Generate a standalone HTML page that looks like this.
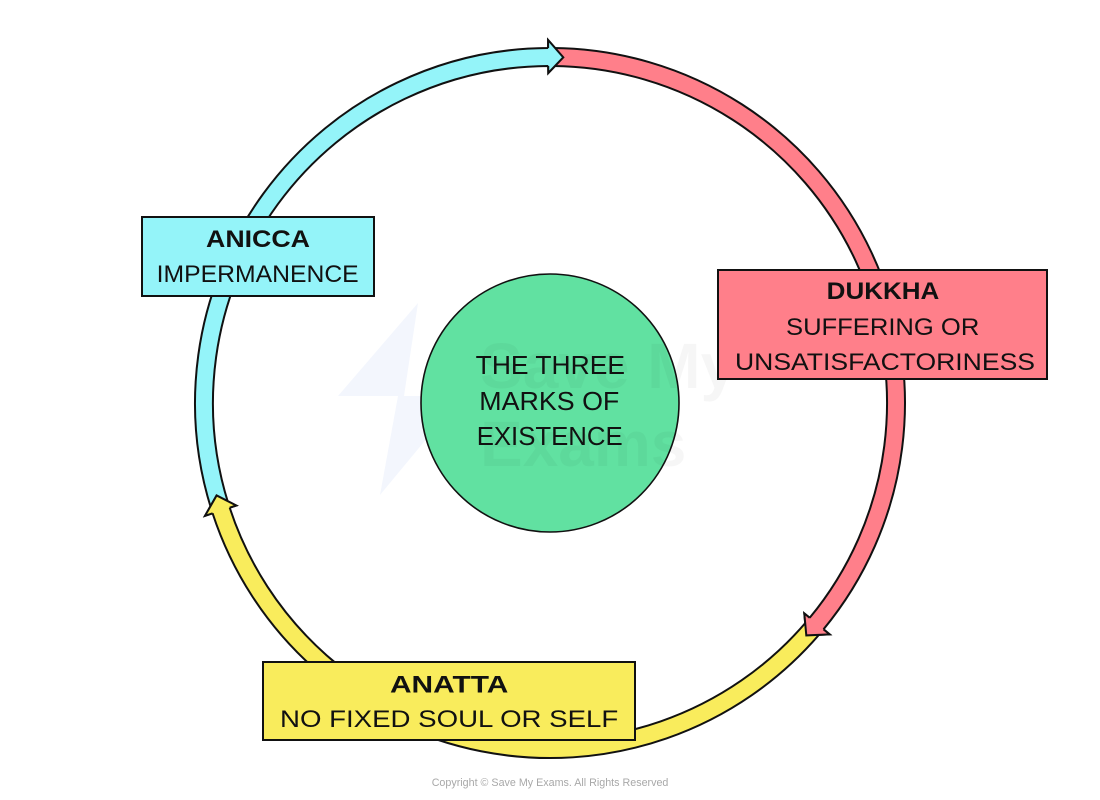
<!DOCTYPE html>
<html>
<head>
<meta charset="utf-8">
<style>
  html, body { margin: 0; padding: 0; background: #ffffff; }
  body { width: 1100px; height: 800px; overflow: hidden; }
  svg { display: block; }
  text { font-family: "Liberation Sans", "DejaVu Sans", sans-serif; fill: #111; }
</style>
</head>
<body>
<svg width="1100" height="800" viewBox="0 0 1100 800" xmlns="http://www.w3.org/2000/svg">
  <rect x="0" y="0" width="1100" height="800" fill="#ffffff"/>

  <!-- faint watermark bolt -->
  <polygon points="418,303 338,396 398,396 380,495 462,396 404,396" fill="#f3f6fd"/>

  <!-- Arrows (full shapes) -->
  <g stroke="#111" stroke-width="2" stroke-linejoin="miter" stroke-miterlimit="10">
    <path d="M 211.3 509.2 A 355 355 0 0 1 548.1 48.0 L 548.1 40.0 L 563.3 57.3 L 548.3 73.0 L 548.2 66.0 A 337 337 0 0 0 228.4 503.8 Z" fill="#94f4f9"/>
    <path d="M 553.1 48.0 A 355 355 0 0 1 823.5 629.3 L 829.7 634.4 L 806.3 635.4 L 804.3 613.4 L 809.7 617.8 A 337 337 0 0 0 552.9 66.0 Z" fill="#ff7f8a"/>
    <path d="M 820.0 633.6 A 355 355 0 0 1 212.6 513.3 L 205.0 515.8 L 216.6 495.5 L 236.3 505.5 L 229.7 507.7 A 337 337 0 0 0 806.3 621.9 Z" fill="#f9ec5c"/>
  </g>

  <!-- Arrow head overlays -->
  <polygon points="548.1,40 563.3,57.3 548.3,73" fill="#94f4f9"/>
  <polyline points="548.1,48 548.1,40 563.3,57.3 548.3,73 548.2,66" fill="none" stroke="#111" stroke-width="2" stroke-linejoin="miter"/>

  <polygon points="829.7,634.4 806.3,635.4 804.3,613.4" fill="#ff7f8a"/>
  <polyline points="823.5,629.3 829.7,634.4 806.3,635.4 804.3,613.4 809.7,617.8" fill="none" stroke="#111" stroke-width="2" stroke-linejoin="miter"/>

  <polygon points="205,515.8 216.6,495.5 236.3,505.5" fill="#f9ec5c"/>
  <polyline points="212.6,513.3 205,515.8 216.6,495.5 236.3,505.5 229.7,507.7" fill="none" stroke="#111" stroke-width="2" stroke-linejoin="miter"/>

  <!-- Center circle -->
  <circle cx="550" cy="403" r="129" fill="#61e1a1" stroke="#111" stroke-width="1.6"/>

  <!-- faint watermark text -->
  <text x="480" y="388" font-size="64" font-weight="bold" fill="#000" fill-opacity="0.035" style="fill:#000;fill-opacity:0.035">Save My</text>
  <text x="480" y="466" font-size="64" font-weight="bold" fill="#000" fill-opacity="0.035" style="fill:#000;fill-opacity:0.035">Exams</text>

  <text x="475.7" y="374" font-size="26" textLength="149.3" lengthAdjust="spacingAndGlyphs">THE THREE</text>
  <text x="479.3" y="410" font-size="26" textLength="140" lengthAdjust="spacingAndGlyphs">MARKS OF</text>
  <text x="476.7" y="445" font-size="26" textLength="146" lengthAdjust="spacingAndGlyphs">EXISTENCE</text>

  <!-- ANICCA box -->
  <rect x="142" y="217" width="232" height="79" fill="#94f4f9" stroke="#111" stroke-width="2"/>
  <text x="206" y="247" font-size="24" font-weight="bold" textLength="104" lengthAdjust="spacingAndGlyphs">ANICCA</text>
  <text x="156.7" y="282" font-size="24" textLength="202" lengthAdjust="spacingAndGlyphs">IMPERMANENCE</text>

  <!-- DUKKHA box -->
  <rect x="718" y="270" width="329" height="109" fill="#ff7f8a" stroke="#111" stroke-width="2"/>
  <text x="826.7" y="299" font-size="24" font-weight="bold" textLength="112.6" lengthAdjust="spacingAndGlyphs">DUKKHA</text>
  <text x="786" y="335" font-size="24" textLength="193.3" lengthAdjust="spacingAndGlyphs">SUFFERING OR</text>
  <text x="735" y="370" font-size="24" textLength="300" lengthAdjust="spacingAndGlyphs">UNSATISFACTORINESS</text>

  <!-- ANATTA box -->
  <rect x="263" y="662" width="372" height="78" fill="#f9ec5c" stroke="#111" stroke-width="2"/>
  <text x="390" y="692.5" font-size="24" font-weight="bold" textLength="118.3" lengthAdjust="spacingAndGlyphs">ANATTA</text>
  <text x="280" y="727" font-size="24" textLength="338.3" lengthAdjust="spacingAndGlyphs">NO FIXED SOUL OR SELF</text>

  <!-- Copyright -->
  <text x="431.7" y="786" font-size="11" textLength="236.7" lengthAdjust="spacingAndGlyphs" style="fill:#a8a8a8">Copyright © Save My Exams. All Rights Reserved</text>
</svg>
</body>
</html>
